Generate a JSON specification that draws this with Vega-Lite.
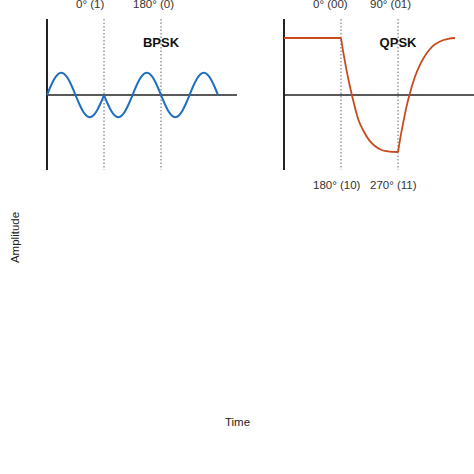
{
  "$schema": "https://vega.github.io/schema/vega-lite/v6.json",
  "width": 474,
  "height": 474,
  "autosize": "none",
  "padding": 0,
  "config": {
    "view": {"stroke": null},
    "font": "Liberation Sans",
    "text": {"font": "Liberation Sans", "color": "#333"},
    "axis": {
      "domain": false, "ticks": false, "labels": false, "grid": false,
      "titleFont": "Liberation Sans", "titleFontSize": 11.5, "titleFontWeight": "normal",
      "titleColor": "#222", "titleBaseline": "middle"
    },
    "axisX": {"titleY": -52},
    "axisY": {"titleX": 15, "titleY": 237, "titleAngle": -90}
  },
  "datasets": {
    "bpsk": [
      {"seg": "a", "t": 0, "v": 0}, {"seg": "a", "t": 0.0625, "v": 0.149}, {"seg": "a", "t": 0.125, "v": 0.276}, {"seg": "a", "t": 0.1875, "v": 0.36},
      {"seg": "a", "t": 0.25, "v": 0.39}, {"seg": "a", "t": 0.3125, "v": 0.36}, {"seg": "a", "t": 0.375, "v": 0.276}, {"seg": "a", "t": 0.4375, "v": 0.149},
      {"seg": "a", "t": 0.5, "v": 0}, {"seg": "a", "t": 0.5625, "v": -0.149}, {"seg": "a", "t": 0.625, "v": -0.276}, {"seg": "a", "t": 0.6875, "v": -0.36},
      {"seg": "a", "t": 0.75, "v": -0.39}, {"seg": "a", "t": 0.8125, "v": -0.36}, {"seg": "a", "t": 0.875, "v": -0.276}, {"seg": "a", "t": 0.9375, "v": -0.149},
      {"seg": "a", "t": 1, "v": 0},
      {"seg": "b", "t": 1, "v": 0}, {"seg": "b", "t": 1.0625, "v": -0.149}, {"seg": "b", "t": 1.125, "v": -0.276}, {"seg": "b", "t": 1.1875, "v": -0.36},
      {"seg": "b", "t": 1.25, "v": -0.39}, {"seg": "b", "t": 1.3125, "v": -0.36}, {"seg": "b", "t": 1.375, "v": -0.276}, {"seg": "b", "t": 1.4375, "v": -0.149},
      {"seg": "b", "t": 1.5, "v": 0}, {"seg": "b", "t": 1.5625, "v": 0.149}, {"seg": "b", "t": 1.625, "v": 0.276}, {"seg": "b", "t": 1.6875, "v": 0.36},
      {"seg": "b", "t": 1.75, "v": 0.39}, {"seg": "b", "t": 1.8125, "v": 0.36}, {"seg": "b", "t": 1.875, "v": 0.276}, {"seg": "b", "t": 1.9375, "v": 0.149},
      {"seg": "b", "t": 2, "v": 0}, {"seg": "b", "t": 2.0625, "v": -0.149}, {"seg": "b", "t": 2.125, "v": -0.276}, {"seg": "b", "t": 2.1875, "v": -0.36},
      {"seg": "b", "t": 2.25, "v": -0.39}, {"seg": "b", "t": 2.3125, "v": -0.36}, {"seg": "b", "t": 2.375, "v": -0.276}, {"seg": "b", "t": 2.4375, "v": -0.149},
      {"seg": "b", "t": 2.5, "v": 0}, {"seg": "b", "t": 2.5625, "v": 0.149}, {"seg": "b", "t": 2.625, "v": 0.276}, {"seg": "b", "t": 2.6875, "v": 0.36},
      {"seg": "b", "t": 2.75, "v": 0.39}, {"seg": "b", "t": 2.8125, "v": 0.36}, {"seg": "b", "t": 2.875, "v": 0.276}, {"seg": "b", "t": 2.9375, "v": 0.149},
      {"seg": "b", "t": 3, "v": 0}
    ],
    "qpsk": [
      {"seg": "a", "t": 4.158, "v": 1}, {"seg": "a", "t": 5.158, "v": 1},
      {"seg": "b", "t": 5.158, "v": 1}, {"seg": "b", "t": 5.208, "v": 0.69}, {"seg": "b", "t": 5.258, "v": 0.42}, {"seg": "b", "t": 5.308, "v": 0.18},
      {"seg": "b", "t": 5.358, "v": -0.04}, {"seg": "b", "t": 5.458, "v": -0.42}, {"seg": "b", "t": 5.558, "v": -0.64}, {"seg": "b", "t": 5.658, "v": -0.8},
      {"seg": "b", "t": 5.758, "v": -0.9}, {"seg": "b", "t": 5.858, "v": -0.96}, {"seg": "b", "t": 5.958, "v": -0.985}, {"seg": "b", "t": 6.058, "v": -0.997},
      {"seg": "b", "t": 6.158, "v": -1},
      {"seg": "c", "t": 6.158, "v": -1}, {"seg": "c", "t": 6.208, "v": -0.7}, {"seg": "c", "t": 6.258, "v": -0.44}, {"seg": "c", "t": 6.308, "v": -0.2},
      {"seg": "c", "t": 6.358, "v": 0}, {"seg": "c", "t": 6.458, "v": 0.33}, {"seg": "c", "t": 6.558, "v": 0.56}, {"seg": "c", "t": 6.658, "v": 0.73},
      {"seg": "c", "t": 6.758, "v": 0.85}, {"seg": "c", "t": 6.858, "v": 0.92}, {"seg": "c", "t": 6.958, "v": 0.965}, {"seg": "c", "t": 7.058, "v": 0.99},
      {"seg": "c", "t": 7.158, "v": 1}
    ],
    "yaxes": [{"t": 0}, {"t": 4.158}],
    "xaxes": [{"t": 0, "t2": 3.333}, {"t": 4.158, "t2": 7.491}],
    "symbols": [{"t": 1}, {"t": 2}, {"t": 5.158}, {"t": 6.158}],
    "phases": [
      {"t": 1, "where": "top", "label": "0° (1)"},
      {"t": 2, "where": "top", "label": "180° (0)"},
      {"t": 5.158, "where": "top", "label": "0° (00)"},
      {"t": 6.158, "where": "top", "label": "90° (01)"},
      {"t": 5.158, "where": "bottom", "label": "180° (10)"},
      {"t": 6.158, "where": "bottom", "label": "270° (11)"}
    ],
    "names": [{"t": 2, "name": "BPSK"}, {"t": 6.158, "name": "QPSK"}]
  },
  "layer": [
    {
      "data": {"name": "symbols"},
      "mark": {"type": "rule", "color": "#999", "strokeWidth": 1.5, "strokeDash": [1.5, 2]},
      "encoding": {
        "x": {"field": "t", "type": "quantitative", "scale": {"domain": [-0.825, 7.491], "nice": false, "zero": false}},
        "y": {"datum": 1.333, "type": "quantitative", "scale": {"domain": [-6.649, 1.667], "nice": false, "zero": false}},
        "y2": {"datum": -1.316}
      }
    },
    {
      "data": {"name": "xaxes"},
      "mark": {"type": "rule", "color": "#222", "strokeWidth": 1.6},
      "encoding": {
        "x": {"field": "t", "type": "quantitative", "scale": {"domain": [-0.825, 7.491], "nice": false, "zero": false}},
        "x2": {"field": "t2"},
        "y": {"datum": 0, "type": "quantitative", "scale": {"domain": [-6.649, 1.667], "nice": false, "zero": false}}
      }
    },
    {
      "data": {"name": "yaxes"},
      "mark": {"type": "rule", "color": "#222", "strokeWidth": 2},
      "encoding": {
        "x": {"field": "t", "type": "quantitative", "scale": {"domain": [-0.825, 7.491], "nice": false, "zero": false}},
        "y": {"datum": 1.333, "type": "quantitative", "scale": {"domain": [-6.649, 1.667], "nice": false, "zero": false}},
        "y2": {"datum": -1.316}
      }
    },
    {
      "data": {"name": "bpsk"},
      "mark": {"type": "line", "color": "#1f6fbf", "strokeWidth": 2, "interpolate": "monotone"},
      "encoding": {
        "x": {"field": "t", "type": "quantitative", "title": "Time", "scale": {"domain": [-0.825, 7.491], "nice": false, "zero": false}},
        "y": {"field": "v", "type": "quantitative", "title": "Amplitude", "scale": {"domain": [-6.649, 1.667], "nice": false, "zero": false}},
        "detail": {"field": "seg"}
      }
    },
    {
      "data": {"name": "qpsk"},
      "mark": {"type": "line", "color": "#c84b1e", "strokeWidth": 1.8, "interpolate": "monotone"},
      "encoding": {
        "x": {"field": "t", "type": "quantitative", "title": "Time", "scale": {"domain": [-0.825, 7.491], "nice": false, "zero": false}},
        "y": {"field": "v", "type": "quantitative", "title": "Amplitude", "scale": {"domain": [-6.649, 1.667], "nice": false, "zero": false}},
        "detail": {"field": "seg"}
      }
    },
    {
      "data": {"name": "phases"},
      "transform": [{"filter": "datum.where == 'top'"}],
      "mark": {"type": "text", "align": "left", "baseline": "middle", "dx": -28, "fontSize": 11.5},
      "encoding": {
        "x": {"field": "t", "type": "quantitative", "scale": {"domain": [-0.825, 7.491], "nice": false, "zero": false}},
        "y": {"datum": 1.579, "type": "quantitative", "scale": {"domain": [-6.649, 1.667], "nice": false, "zero": false}},
        "text": {"field": "label"}
      }
    },
    {
      "data": {"name": "phases"},
      "transform": [{"filter": "datum.where == 'bottom'"}],
      "mark": {"type": "text", "align": "left", "baseline": "middle", "dx": -28, "fontSize": 11.5},
      "encoding": {
        "x": {"field": "t", "type": "quantitative", "scale": {"domain": [-0.825, 7.491], "nice": false, "zero": false}},
        "y": {"datum": -1.596, "type": "quantitative", "scale": {"domain": [-6.649, 1.667], "nice": false, "zero": false}},
        "text": {"field": "label"}
      }
    },
    {
      "data": {"name": "names"},
      "mark": {"type": "text", "align": "center", "baseline": "middle", "fontSize": 13, "fontWeight": "bold", "color": "#111"},
      "encoding": {
        "x": {"field": "t", "type": "quantitative", "scale": {"domain": [-0.825, 7.491], "nice": false, "zero": false}},
        "y": {"datum": 0.912, "type": "quantitative", "scale": {"domain": [-6.649, 1.667], "nice": false, "zero": false}},
        "text": {"field": "name"}
      }
    }
  ]
}
